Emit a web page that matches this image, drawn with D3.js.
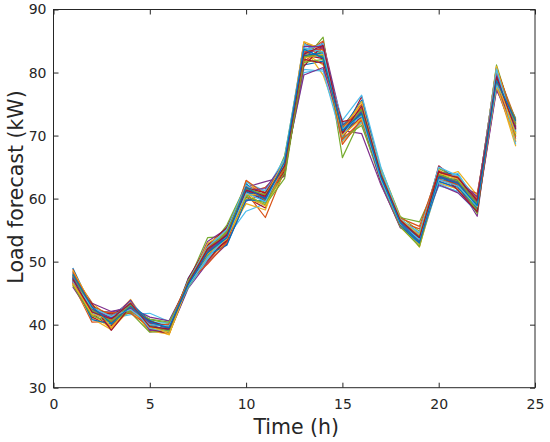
<!DOCTYPE html>
<html><head><meta charset="utf-8">
<script src="https://cdn.jsdelivr.net/npm/d3@7"></script>
<style>body{margin:0;background:#fff}svg{display:block}</style>
</head><body>
<svg id="c" width="550" height="442"></svg>
<script>
const hours = d3.range(1, 25);
const xTicks = [0, 5, 10, 15, 20, 25];
const yTicks = [30, 40, 50, 60, 70, 80, 90];
const xLabel = "Time (h)";
const yLabel = "Load forecast (kW)";
const palette = ["#0072BD", "#D95319", "#EDB120", "#7E2F8E", "#77AC30", "#4DBEEE", "#A2142F"];

const sc01 = [49.0,42.6,40.2,42.2,40.6,39.2,47.4,52.2,54.8,61.2,59.6,65.2,81.2,81.8,69.8,73.8,62.8,56.0,54.2,63.4,62.6,59.2,79.2,70.5];
const sc02 = [46.5,40.4,40.5,43.2,39.8,38.7,46.2,50.0,53.5,61.0,57.0,64.5,84.8,82.0,69.5,74.5,63.5,56.2,53.0,64.0,63.5,58.5,79.0,69.0];
const sc03 = [48.0,43.5,40.8,44.0,39.5,38.4,47.2,51.2,54.2,62.8,60.2,65.8,84.0,79.6,71.0,72.5,63.8,56.4,52.3,63.2,64.3,60.5,78.2,68.3];
const sc04 = [46.8,42.2,42.0,42.8,40.0,39.8,46.4,52.0,55.5,61.8,62.7,63.5,83.5,84.5,70.8,70.3,62.2,55.6,53.2,63.8,62.2,57.2,79.8,70.2];
const sc05 = [47.8,42.5,41.8,42.0,40.2,40.0,46.8,53.8,54.0,60.5,60.5,65.0,82.0,85.6,66.5,73.0,64.5,57.0,56.3,63.0,62.5,59.0,81.2,71.5];
const sc06 = [47.2,42.8,41.0,41.6,41.8,40.5,46.6,51.5,53.8,58.0,59.2,64.8,80.0,80.5,72.0,73.2,63.2,56.8,54.5,62.0,61.2,58.8,78.5,72.8];
const sc07 = [47.5,41.8,39.5,43.0,38.9,38.9,46.0,50.8,53.2,60.2,58.5,66.5,82.8,82.2,70.2,76.2,64.2,56.6,53.6,65.2,62.8,59.8,80.8,71.8];
const sc08 = [47.0,42.0,40.5,43.0,39.5,39.0,46.5,51.0,54.5,61.5,60.0,65.5,83.0,82.5,70.0,73.5,63.0,56.0,53.5,63.5,62.0,59.5,79.5,71.0];
const sc09 = [48.5,43.0,41.5,43.5,40.5,39.5,47.0,52.5,55.0,62.0,61.0,66.0,84.5,84.0,71.5,75.0,64.0,56.5,54.0,64.5,63.0,60.0,80.5,72.5];
const sc10 = [46.2,41.0,39.2,42.5,39.0,38.5,46.0,50.5,53.0,60.0,59.0,64.0,81.5,83.5,69.0,72.0,62.5,55.5,52.5,62.5,61.5,58.0,78.0,70.0];
const sc11 = [46.0,41.5,41.2,43.8,39.2,38.6,45.8,49.8,52.8,59.6,60.8,64.2,82.2,84.8,71.8,72.8,63.6,56.2,53.8,62.8,61.6,58.2,77.5,69.5];
const sc12 = [47.6,43.2,40.0,42.6,40.8,40.2,46.9,51.8,55.8,62.2,59.8,66.8,83.8,83.2,70.6,74.2,64.8,57.2,54.8,64.8,63.2,60.2,80.2,72.2];
const sc13 = [48.2,42.1,41.6,43.4,39.6,39.4,46.3,52.8,54.4,60.6,61.4,65.6,80.5,80.2,69.2,72.2,62.6,55.8,52.8,62.4,61.0,57.8,78.8,70.8];
const sc14 = [46.6,41.2,39.8,42.4,40.4,39.6,46.7,50.2,53.6,61.6,60.4,63.8,82.6,82.8,70.4,73.6,63.4,56.6,54.4,63.6,62.4,59.6,79.6,71.2];
const sc15 = [47.4,42.9,40.6,43.6,39.4,38.8,46.1,51.4,54.6,62.4,59.4,65.4,84.2,84.2,71.2,75.6,64.4,55.9,53.4,64.2,63.8,58.6,80.0,72.0];
const sc16 = [48.8,42.4,41.4,42.2,40.1,39.9,47.1,52.4,53.4,60.8,61.8,64.6,81.8,83.8,68.6,72.6,63.0,56.3,55.2,63.0,62.0,60.8,78.4,69.8];
const sc17 = [46.4,41.6,39.4,43.1,39.9,38.4,46.6,50.6,54.0,59.2,58.2,66.2,83.2,81.2,71.4,74.8,64.6,57.0,52.6,64.6,61.4,59.4,81.0,70.4];
const sc18 = [47.9,43.4,42.1,42.7,41.2,40.6,46.5,53.2,55.2,61.4,60.6,65.1,79.6,80.8,70.9,73.4,62.4,55.4,54.0,62.2,60.9,58.0,77.2,71.4];
const sc19 = [47.1,42.7,40.9,41.9,38.8,39.1,46.8,51.6,53.9,60.4,59.0,63.2,82.4,83.4,69.6,71.6,63.3,56.1,53.1,63.2,62.9,57.6,79.4,72.6];
const sc20 = [48.4,41.9,40.3,43.7,40.3,40.3,45.9,50.4,54.3,62.6,61.2,66.4,84.6,82.6,72.4,76.4,65.0,56.7,54.6,65.0,63.6,60.0,80.6,68.6];
const sc21 = [46.9,42.3,41.7,42.9,39.3,38.6,47.3,52.6,55.4,61.0,60.0,64.4,81.0,84.4,70.0,73.0,62.7,56.5,53.7,63.6,62.1,59.1,78.6,71.6];
const sc22 = [47.3,40.8,40.1,43.3,40.7,39.5,46.2,51.1,52.6,59.8,59.6,65.9,83.6,82.4,71.6,74.0,64.1,55.7,52.9,62.7,61.8,58.4,79.9,70.6];
const sc23 = [46.7,42.0,41.9,41.8,39.7,40.1,46.9,49.6,53.1,62.9,60.7,64.9,82.9,85.0,69.4,72.4,63.9,56.9,55.6,64.3,63.4,59.9,79.1,72.4];
const sc24 = [48.6,43.1,39.6,42.5,40.0,38.5,46.4,52.9,54.7,60.9,58.8,65.3,84.9,83.6,70.7,75.4,63.1,56.2,53.3,63.9,62.6,58.9,77.8,69.2];
const sc25 = [47.7,42.4,40.7,43.9,39.1,39.3,46.6,51.9,53.7,61.3,61.6,65.7,83.1,83.9,70.3,74.4,63.7,56.4,54.1,63.3,63.0,60.3,79.7,71.1];
const sc26 = [46.3,41.4,40.4,42.3,40.9,40.4,46.0,50.9,54.9,60.3,59.3,64.1,81.6,82.1,71.1,73.3,62.9,55.6,52.4,64.1,62.3,58.1,80.3,70.0];
const sc27 = [48.1,42.6,41.3,43.0,39.4,38.9,47.0,52.3,55.1,62.1,60.3,66.1,83.4,84.6,69.9,74.6,64.3,56.8,54.3,62.9,64.0,59.3,78.1,72.1];
const sc28 = [47.0,43.3,39.1,42.9,40.5,39.7,46.3,51.3,53.3,61.7,60.9,65.5,82.1,81.5,72.2,72.9,63.5,55.9,53.9,64.4,61.3,57.9,79.3,70.9];
const sc29 = [47.4,42.2,41.1,43.3,39.9,39.2,46.7,51.7,54.1,61.1,60.1,65.3,82.7,83.1,70.5,73.9,63.6,56.3,53.6,63.7,62.7,59.0,79.4,71.3];
const sc30 = [48.3,42.9,40.4,42.8,40.2,39.6,46.4,52.1,54.5,61.9,59.7,64.7,83.3,83.7,71.3,74.3,63.2,56.1,53.2,63.1,62.2,59.6,80.1,71.9];
const sc31 = [46.6,41.7,40.8,43.5,39.6,38.8,46.8,51.2,53.6,60.7,60.5,65.9,82.3,82.9,70.1,72.7,63.9,56.7,54.2,64.0,63.1,58.7,78.9,70.3];
const sc32 = [47.6,42.5,41.0,42.6,40.3,39.4,46.5,51.6,54.3,61.4,60.2,65.4,84.1,84.1,70.9,73.7,63.3,56.3,53.4,63.5,62.5,59.4,79.6,71.4];
const sc33 = [47.9,42.3,40.6,43.1,39.8,39.0,46.9,51.9,54.7,61.6,60.6,65.0,82.5,82.7,70.6,74.1,64.0,56.5,53.9,63.8,62.8,59.2,79.0,71.7];
const sc34 = [46.9,42.7,41.3,42.4,40.0,39.8,46.2,50.7,53.9,60.9,59.5,65.6,83.9,83.3,71.0,73.1,63.0,56.0,53.5,63.0,62.0,58.8,80.4,70.7];
const sc35 = [47.2,42.0,40.9,43.4,39.7,39.3,46.6,52.0,54.2,61.3,60.4,65.2,82.9,84.3,70.4,74.7,63.8,56.6,53.8,64.2,63.3,59.7,79.3,71.0];
const sc36 = [48.0,42.8,40.2,42.9,40.4,39.5,46.4,51.4,53.8,61.8,59.9,65.8,83.7,82.3,70.8,73.5,63.4,56.2,53.1,63.4,62.4,58.9,78.7,72.3];

const scenarios = [sc01,sc02,sc03,sc04,sc05,sc06,sc07,sc08,sc09,sc10,sc11,sc12,sc13,sc14,
                   sc15,sc16,sc17,sc18,sc19,sc20,sc21,sc22,sc23,sc24,sc25,sc26,sc27,sc28,
                   sc29,sc30,sc31,sc32,sc33,sc34,sc35,sc36];

const svg = d3.select("#c");
const L = 53.5, R = 535, T = 9.5, B = 387.7;
const x = d3.scaleLinear().domain([0, 25]).range([L, R]);
const y = d3.scaleLinear().domain([30, 90]).range([B, T]);
const ink = "#262626";
const font = "DejaVu Sans, Verdana, sans-serif";

const line = d3.line().x((d, i) => x(hours[i])).y(d => y(d));
const plot = svg.append("g");
plot.selectAll("path").data(scenarios).join("path")
  .attr("d", line)
  .attr("fill", "none")
  .attr("stroke", (d, i) => palette[i % palette.length])
  .attr("stroke-width", 1.2)
  .attr("stroke-linejoin", "round");

const tl = 5;
function styleAxis(g) {
  g.select(".domain").remove();
  g.selectAll(".tick line").attr("stroke", ink).attr("stroke-width", 1);
  g.selectAll(".tick text").attr("fill", ink).attr("font-family", font).attr("font-size", 14);
}
svg.append("g").attr("transform", `translate(0,${B})`)
  .call(d3.axisBottom(x).tickValues(xTicks).tickSize(-tl).tickPadding(11).tickFormat(d3.format("d")))
  .call(styleAxis);
svg.append("g").attr("transform", `translate(0,${T})`)
  .call(d3.axisTop(x).tickValues(xTicks).tickSize(-tl).tickFormat(""))
  .call(styleAxis);
svg.append("g").attr("transform", `translate(${L},0)`)
  .call(d3.axisLeft(y).tickValues(yTicks).tickSize(-tl).tickPadding(7).tickFormat(d3.format("d")))
  .call(styleAxis);
svg.append("g").attr("transform", `translate(${R},0)`)
  .call(d3.axisRight(y).tickValues(yTicks).tickSize(-tl).tickFormat(""))
  .call(styleAxis);

svg.append("rect").attr("x", L).attr("y", T).attr("width", R - L).attr("height", B - T)
  .attr("fill", "none").attr("stroke", ink).attr("stroke-width", 1);

svg.append("text").attr("x", (L + R) / 2 + 2).attr("y", 434)
  .attr("text-anchor", "middle").attr("font-family", font).attr("font-size", 20.5)
  .attr("fill", ink).text(xLabel);
svg.append("text").attr("transform", "translate(23,187) rotate(-90)")
  .attr("text-anchor", "middle").attr("font-family", font).attr("font-size", 20.5)
  .attr("fill", ink).text(yLabel);
</script>
</body></html>
